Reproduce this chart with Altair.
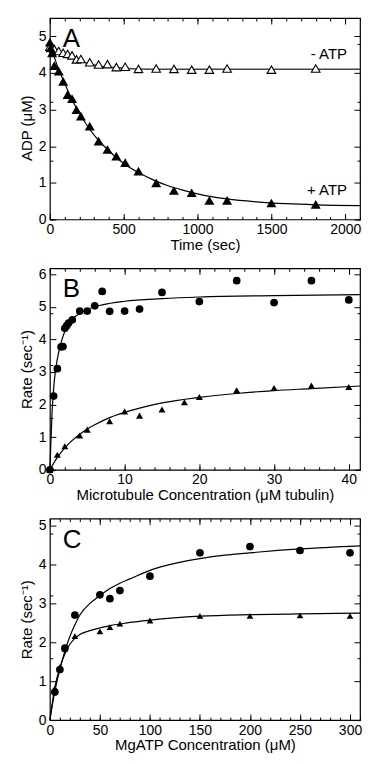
import altair as alt
import pandas as pd

FONT = "Liberation Sans"

# ---------------- Panel A data ----------------
a_plus_t = [0, 5, 15, 30, 60, 90, 120, 150, 180, 210, 270, 330, 390, 450, 510, 600, 720, 840, 960, 1080, 1200, 1500, 1800]
a_plus_y = [4.84, 4.68, 4.55, 4.2, 4.05, 3.77, 3.41, 3.3, 3.0, 2.82, 2.55, 2.14, 1.91, 1.73, 1.55, 1.32, 1.0, 0.79, 0.73, 0.52, 0.52, 0.45, 0.41]
a_minus_t = [0, 30, 60, 90, 120, 150, 180, 210, 270, 330, 390, 450, 510, 600, 720, 840, 960, 1080, 1200, 1500, 1800]
a_minus_y = [4.72, 4.65, 4.6, 4.55, 4.52, 4.48, 4.37, 4.38, 4.29, 4.23, 4.24, 4.16, 4.17, 4.11, 4.12, 4.11, 4.09, 4.09, 4.12, 4.09, 4.12]
a_fit_plus_t = [0, 25, 50, 100, 150, 200, 250, 300, 400, 500, 600, 700, 800, 900, 1000, 1200, 1400, 1600, 1800, 2100]
a_fit_plus_y = [4.85, 4.5, 4.2, 3.72, 3.27, 2.9, 2.58, 2.3, 1.87, 1.53, 1.28, 1.08, 0.92, 0.8, 0.7, 0.56, 0.48, 0.43, 0.40, 0.38]
a_fit_minus_t = [0, 50, 100, 200, 300, 400, 500, 600, 800, 1000, 1400, 2100]
a_fit_minus_y = [4.74, 4.6, 4.5, 4.33, 4.22, 4.16, 4.13, 4.11, 4.1, 4.1, 4.1, 4.1]

# ---------------- Panel B data ----------------
b_circ_x = [0, 0.5, 1, 1.5, 1.75, 2, 2.25, 2.5, 3, 4, 5, 6, 7, 8, 10, 12, 15, 20, 25, 30, 35, 40]
b_circ_y = [0, 2.26, 3.1, 3.77, 3.78, 4.34, 4.42, 4.5, 4.6, 4.87, 4.87, 5.03, 5.47, 4.86, 4.87, 4.93, 5.44, 5.16, 5.8, 5.13, 5.8, 5.21]
b_tri_x = [0, 1, 2, 4, 5, 8, 10, 12, 15, 18, 20, 25, 30, 35, 40]
b_tri_y = [0, 0.46, 0.72, 1.05, 1.23, 1.49, 1.79, 1.66, 1.85, 2.07, 2.23, 2.44, 2.51, 2.58, 2.54]
b_fit_circ_x = [0, 0.3, 0.6, 1, 1.5, 2, 3, 4, 5, 7, 10, 15, 20, 30, 41.5]
b_fit_circ_y = [0, 1.8, 2.75, 3.4, 3.9, 4.25, 4.62, 4.8, 4.92, 5.06, 5.17, 5.25, 5.3, 5.34, 5.37]
b_fit_tri_x = [0, 1, 2, 3, 4, 5, 6, 8, 10, 12, 15, 20, 25, 30, 35, 41.5]
b_fit_tri_y = [0, 0.38, 0.67, 0.9, 1.09, 1.25, 1.38, 1.6, 1.76, 1.89, 2.05, 2.22, 2.34, 2.43, 2.49, 2.57]

# ---------------- Panel C data ----------------
c_x = [5, 10, 15, 25, 50, 60, 70, 100, 150, 200, 250, 300]
c_circ_y = [0.72, 1.3, 1.85, 2.7, 3.22, 3.12, 3.33, 3.7, 4.3, 4.46, 4.36, 4.3]
c_tri_y = [0.82, 1.36, 1.83, 2.16, 2.28, 2.39, 2.48, 2.56, 2.68, 2.68, 2.69, 2.68]
c_fit_circ_x = [0, 5, 10, 15, 20, 25, 30, 40, 50, 60, 70, 80, 100, 125, 150, 175, 200, 250, 310]
c_fit_circ_y = [0, 0.75, 1.3, 1.78, 2.15, 2.45, 2.7, 3.0, 3.2, 3.38, 3.52, 3.63, 3.85, 4.03, 4.15, 4.24, 4.3, 4.4, 4.48]
c_fit_tri_x = [0, 5, 10, 15, 20, 25, 30, 40, 50, 60, 70, 80, 100, 150, 200, 250, 310]
c_fit_tri_y = [0, 0.85, 1.35, 1.7, 1.95, 2.1, 2.2, 2.3, 2.37, 2.43, 2.47, 2.51, 2.57, 2.67, 2.71, 2.73, 2.75]

# ---------------- axes ----------------
a_xdom, a_ydom = [0, 2100], [0, 5.5]
b_xdom, b_ydom = [0, 41.5], [0, 6.18]
c_xdom, c_ydom = [0, 310], [0, 5.18]

def steps(start, stop, step):
    n = int(round((stop - start) / step))
    return [round(start + i * step, 4) for i in range(n + 1)]

a_xmaj, a_xmin = steps(0, 2000, 500), steps(0, 2100, 100)
a_ymaj, a_ymin = steps(0, 5, 1), steps(0, 5.4, 0.2)
b_xmaj, b_xmin = steps(0, 40, 10), steps(0, 40, 2)
b_ymaj, b_ymin = steps(0, 6, 1), steps(0, 6, 0.2)
c_xmaj, c_xmin = steps(0, 300, 50), steps(0, 310, 10)
c_ymaj, c_ymin = steps(0, 5, 1), steps(0, 5, 0.2)

W, H = 311, 202
MAJ, MIN = 6, 3


def frame(xdom, ydom, xmaj, xmin, ymaj, ymin, xtitle, ytitle, ytitle_extra=None):
    corners = pd.DataFrame({"x": xdom, "y": ydom})
    base = alt.Chart(corners).mark_point(opacity=0)
    xs = alt.Scale(domain=xdom, nice=False, zero=False)
    ys = alt.Scale(domain=ydom, nice=False, zero=False)
    common = dict(domain=False, grid=False, tickColor="black", tickWidth=1,
                  labelFlush=False, format="d")
    yextra = ytitle_extra or {}
    l1 = base.encode(
        x=alt.X("x:Q", scale=xs, axis=alt.Axis(orient="bottom", values=xmaj, offset=-MAJ, tickSize=MAJ,
                                               labelPadding=3, title=xtitle, titlePadding=1, **common)),
        y=alt.Y("y:Q", scale=ys, axis=alt.Axis(orient="left", values=ymaj, offset=-MAJ, tickSize=MAJ,
                                               labelPadding=4, title=ytitle, titlePadding=4,
                                               **yextra, **common)),
    )
    l2 = base.encode(
        x=alt.X("x:Q", scale=xs, axis=alt.Axis(orient="bottom", values=xmin, offset=-MIN, tickSize=MIN,
                                               labels=False, title=None, **common)),
        y=alt.Y("y:Q", scale=ys, axis=alt.Axis(orient="left", values=ymin, offset=-MIN, tickSize=MIN,
                                               labels=False, title=None, **common)),
    )
    l3 = base.encode(
        x=alt.X("x:Q", scale=xs, axis=alt.Axis(orient="top", values=xmaj, offset=-MAJ, tickSize=MAJ,
                                               labels=False, title=None, **common)),
        y=alt.Y("y:Q", scale=ys, axis=alt.Axis(orient="right", values=ymaj, offset=-MAJ, tickSize=MAJ,
                                               labels=False, title=None, **common)),
    )
    l4 = base.encode(
        x=alt.X("x:Q", scale=xs, axis=alt.Axis(orient="top", values=xmin, offset=-MIN, tickSize=MIN,
                                               labels=False, title=None, **common)),
        y=alt.Y("y:Q", scale=ys, axis=alt.Axis(orient="right", values=ymin, offset=-MIN, tickSize=MIN,
                                               labels=False, title=None, **common)),
    )
    return [l1, l2, l3, l4], xs, ys


def line(xv, yv, xs, ys, color="black", width=1.2):
    df = pd.DataFrame({"x": xv, "y": yv})
    return alt.Chart(df).mark_line(color=color, strokeWidth=width, interpolate="monotone").encode(
        x=alt.X("x:Q", scale=xs, axis=None), y=alt.Y("y:Q", scale=ys, axis=None))


def pts(xv, yv, xs, ys, shape, size, filled=True):
    df = pd.DataFrame({"x": xv, "y": yv})
    if filled:
        m = alt.Chart(df).mark_point(shape=shape, size=size, filled=True, color="black", opacity=1)
    else:
        m = alt.Chart(df).mark_point(shape=shape, size=size, filled=True, fill="white",
                                     stroke="black", strokeWidth=1.1, opacity=1)
    return m.encode(x=alt.X("x:Q", scale=xs, axis=None), y=alt.Y("y:Q", scale=ys, axis=None))


def letter(txt):
    return alt.Chart(pd.DataFrame({"t": [txt]})).mark_text(
        font=FONT, fontSize=26, align="left", baseline="alphabetic", color="black"
    ).encode(x=alt.value(13), y=alt.value(29), text="t:N")


def note(txt, xv, yv, xs, ys):
    return alt.Chart(pd.DataFrame({"t": [txt]})).mark_text(
        font=FONT, fontSize=15, align="right", baseline="alphabetic", color="black"
    ).encode(x=alt.XDatum(xv, scale=xs, axis=None), y=alt.YDatum(yv, scale=ys, axis=None), text="t:N")


# Panel A
fa, xs, ys = frame(a_xdom, a_ydom, a_xmaj, a_xmin, a_ymaj, a_ymin, "Time (sec)", "ADP (μM)",
                   ytitle_extra={"titleY": 110})
panel_a = alt.layer(
    *fa,
    line(a_fit_minus_t, a_fit_minus_y, xs, ys, color="#444", width=1.5),
    line(a_fit_plus_t, a_fit_plus_y, xs, ys),
    pts(a_minus_t, a_minus_y, xs, ys, "triangle-up", 75, filled=False),
    pts(a_plus_t, a_plus_y, xs, ys, "triangle-up", 100),
    letter("A"),
    note("- ATP", 2012, 4.39, xs, ys),
    note("+ ATP", 2012, 0.68, xs, ys),
).resolve_axis(x="independent", y="independent").properties(width=W, height=H)

# Panel B
fb, xs, ys = frame(b_xdom, b_ydom, b_xmaj, b_xmin, b_ymaj, b_ymin,
                   "Microtubule Concentration (μM tubulin)", "Rate (sec⁻¹)")
panel_b = alt.layer(
    *fb,
    line(b_fit_circ_x, b_fit_circ_y, xs, ys),
    line(b_fit_tri_x, b_fit_tri_y, xs, ys),
    pts(b_circ_x, b_circ_y, xs, ys, "circle", 60),
    pts(b_tri_x, b_tri_y, xs, ys, "triangle-up", 50),
    letter("B"),
).resolve_axis(x="independent", y="independent").properties(width=W, height=H)

# Panel C
fc, xs, ys = frame(c_xdom, c_ydom, c_xmaj, c_xmin, c_ymaj, c_ymin,
                   "MgATP Concentration (μM)", "Rate (sec⁻¹)")
panel_c = alt.layer(
    *fc,
    line(c_fit_circ_x, c_fit_circ_y, xs, ys),
    line(c_fit_tri_x, c_fit_tri_y, xs, ys),
    pts(c_x, c_circ_y, xs, ys, "circle", 60),
    pts(c_x, c_tri_y, xs, ys, "triangle-up", 45),
    letter("C"),
).resolve_axis(x="independent", y="independent").properties(width=W, height=H)

chart = alt.vconcat(panel_a, panel_b, panel_c, spacing=11).properties(
    padding={"left": 10, "top": 5, "right": 0, "bottom": 0},
    background="white",
).configure_view(stroke="black", strokeWidth=1.2).configure_axis(
    labelFont=FONT, labelFontSize=14, labelColor="black",
    titleFont=FONT, titleFontSize=15, titleFontWeight="normal", titleColor="black",
)

chart.save("out.html", embed_options={"renderer": "svg", "actions": False})
